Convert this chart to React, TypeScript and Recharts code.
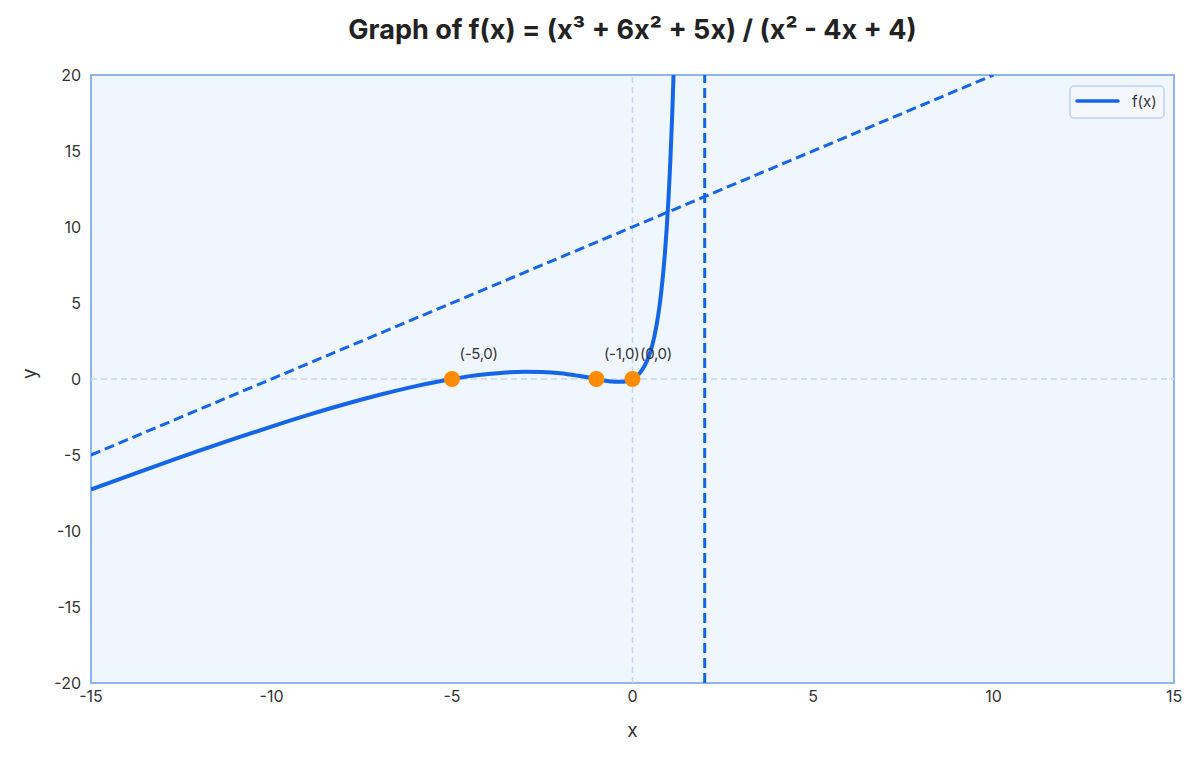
import { CartesianGrid, ComposedChart, LabelList, Line, ReferenceLine, Scatter, XAxis, YAxis } from 'recharts'

// points
const curveX = [-15, -14, -13, -12, -11, -10, -9, -8, -7, -6, -5, -4.5, -4, -3.5, -3, -2.5, -2, -1.5, -1, -0.75, -0.5, -0.25, 0, 0.1, 0.25, 0.4, 0.5, 0.6, 0.7, 0.75, 0.8, 0.9, 0.95, 1, 1.05, 1.1, 1.125, 1.15, 1.2]
const curveY = [-7.27, -6.4, -5.55, -4.71, -3.91, -3.13, -2.38, -1.68, -1.04, -0.47, 0, 0.19, 0.33, 0.43, 0.48, 0.46, 0.38, 0.21, 0, -0.11, -0.18, -0.18, 0, 0.16, 0.54, 1.18, 1.83, 2.74, 4.01, 4.83, 5.8, 8.34, 10.0, 12, 14.43, 17.4, 19.13, 21.05, 25.6]

const asymX = [-15, 10]
const asymY = [-5, 20]

const rootX = [-5, -1, 0]
const rootY = [0, 0, 0]
const rootLabels = ['(-5,0)', '(-1,0)', '(0,0)']

const xTicks = [-15, -10, -5, 0, 5, 10, 15]
const yTicks = [-20, -15, -10, -5, 0, 5, 10, 15, 20]

const curve = curveX.map((x, i) => ({ x, y: curveY[i] }))
const asym = asymX.map((x, i) => ({ x, y: asymY[i] }))
const roots = rootX.map((x, i) => ({ x, y: rootY[i], label: rootLabels[i] }))

const FONT = 'Inter, "Noto Sans", sans-serif'
const BLUE = '#1565e8'

export default function App() {
  return (
    <div style={{ position: 'absolute', left: 0, top: 0, width: 1200, height: 760, background: '#fff', fontFamily: FONT }}>
      <div style={{ position: 'absolute', left: 0, width: 1265, top: 13, textAlign: 'center', fontSize: 27, fontWeight: 700, color: '#222' }}>
        Graph of f(x) = (x³ + 6x² + 5x) / (x² - 4x + 4)
      </div>
      <ComposedChart width={1200} height={760} margin={{ top: 75, right: 26, bottom: 27, left: 31 }}>
        <rect x={91} y={75} width={1083} height={608} fill="#f0f6fd" stroke="#8db4f5" strokeWidth={2} />
        <CartesianGrid stroke="#d3e0f1" strokeDasharray="1.5 4" />
        <XAxis
          type="number"
          dataKey="x"
          domain={[-15, 15]}
          ticks={xTicks}
          allowDataOverflow
          axisLine={false}
          tickLine={false}
          tickSize={0}
          tickMargin={8}
          height={50}
          tick={{ fill: '#333', fontSize: 16, fontFamily: FONT }}
          label={{ value: 'x', position: 'insideBottom', offset: -4, fill: '#333', fontSize: 19, fontFamily: FONT }}
        />
        <YAxis
          type="number"
          dataKey="y"
          domain={[-20, 20]}
          ticks={yTicks}
          allowDataOverflow
          axisLine={false}
          tickLine={false}
          tickSize={0}
          tickMargin={10}
          width={60}
          tick={{ fill: '#333', fontSize: 16, fontFamily: FONT }}
          label={{ value: 'y', angle: -90, position: 'insideLeft', offset: -2, fill: '#333', fontSize: 19, fontFamily: FONT }}
        />
        <ReferenceLine x={0} stroke="#c3d7f1" strokeWidth={1.5} strokeDasharray="6 4" />
        <ReferenceLine y={0} stroke="#c3d7f1" strokeWidth={1.5} strokeDasharray="6 4" />
        <ReferenceLine x={2} stroke={BLUE} strokeWidth={3} strokeDasharray="10 5" />
        <Line data={asym} dataKey="y" type="linear" stroke={BLUE} strokeWidth={3} strokeDasharray="10 5" dot={false} isAnimationActive={false} />
        <Line data={curve} dataKey="y" type="monotone" stroke={BLUE} strokeWidth={4} dot={false} isAnimationActive={false} />
        <Scatter data={roots} dataKey="y" fill="#ff8c00" isAnimationActive={false} shape={(p: any) => <circle cx={p.cx} cy={p.cy} r={8} fill="#ff8c00" />}>
          <LabelList
            dataKey="label"
            content={(p: any) => (
              <text x={p.x + 12} y={p.y - 15} fill="#333" fontSize={15} letterSpacing={-0.3} fontFamily={FONT}>
                {p.value}
              </text>
            )}
          />
        </Scatter>
        <g>
          <rect x={1070} y={86} width={94} height={32} rx={4} fill="#f4f8fe" stroke="#b9d2f7" strokeWidth={1.5} />
          <line x1={1077} y1={101} x2={1118} y2={101} stroke={BLUE} strokeWidth={3.5} strokeLinecap="round" />
          <text x={1132} y={107} fill="#333" fontSize={15} fontFamily={FONT}>f(x)</text>
        </g>
      </ComposedChart>
    </div>
  )
}
